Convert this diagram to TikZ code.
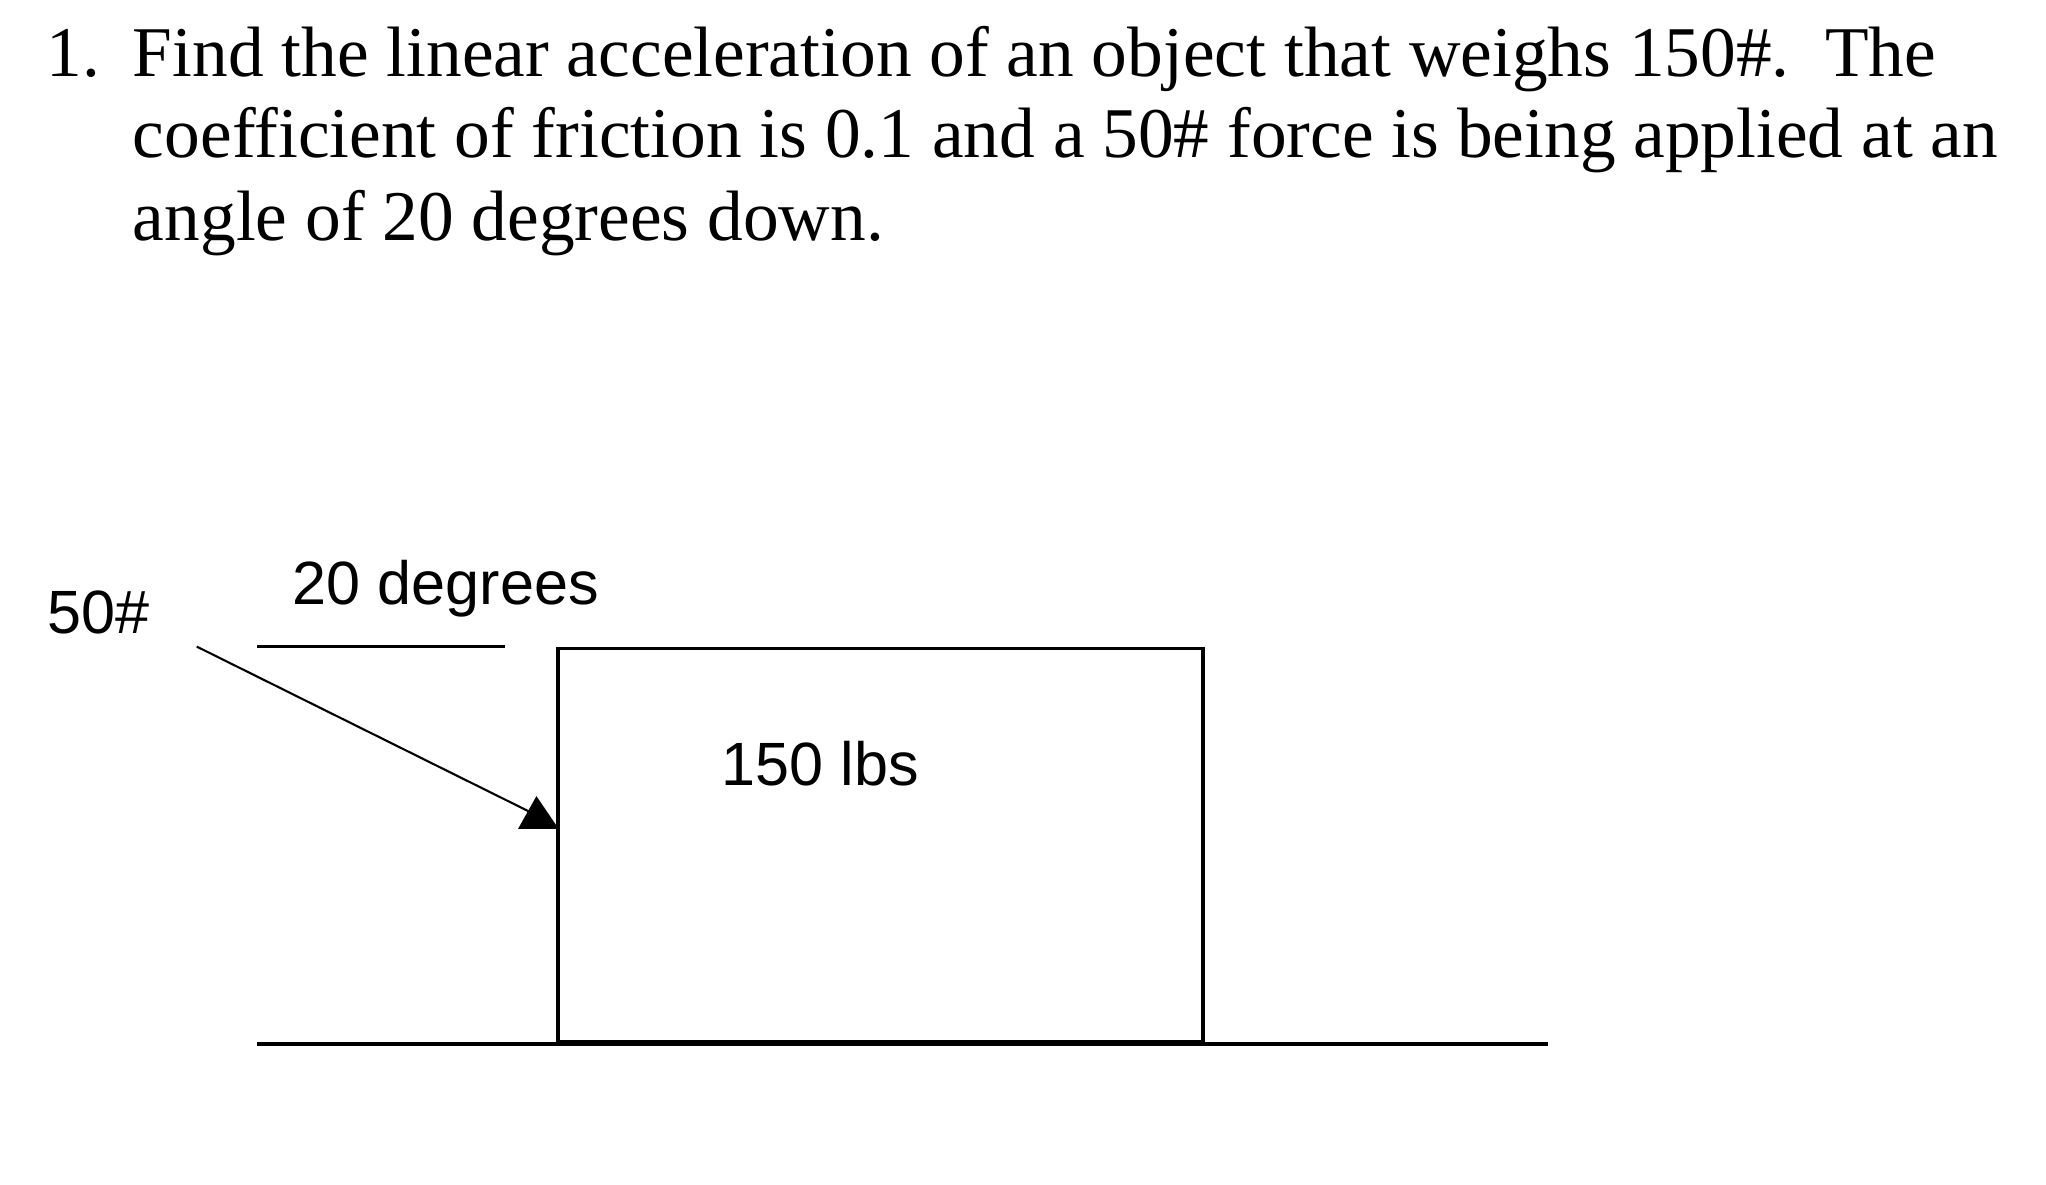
\documentclass[tikz,border=0pt]{standalone}
\usepackage{fontspec}
\newfontfamily\serifT{Liberation Serif}
\newfontfamily\sansA{Liberation Sans}
\begin{document}
\begin{tikzpicture}[x=0.5pt,y=-0.5pt,
  qtext/.style={anchor=base west,inner sep=0pt,font=\serifT\fontsize{27.2}{31}\selectfont},
  dtext/.style={anchor=base west,inner sep=0pt,font=\sansA\fontsize{23.3}{27}\selectfont},
  boxline/.style={line width=1.3pt},
  thinline/.style={line width=0.8pt}]
\useasboundingbox[fill=white] (0,0) rectangle (1560,903);
% question text
\node[qtext] (num) at (35,58) {1.};
\node[qtext] (l1) at (101,58) {Find the linear acceleration of an object that weighs 150\#.\ \ The};
\node[qtext] (l2) at (101,120) {coefficient of friction is 0.1 and a 50\# force is being applied at an};
\node[qtext] (l3) at (101,183) {angle of 20 degrees down.};
% diagram labels
\node[dtext] (force) at (36,483) {50\#};
\node[dtext] (angle) at (223,461) {20 degrees};
\node[dtext] (weight) at (550,599) {150 lbs};
% reference line for angle
\coordinate (ref1) at (196,493);
\coordinate (ref2) at (385,493);
\draw[boxline] (ref1) -- (ref2);
% box
\node[draw,boxline,minimum width=492*0.5pt,minimum height=300*0.5pt,inner sep=0pt,anchor=north west] (block) at (424,493) {};
% ground
\coordinate (g1) at (196,796);
\coordinate (g2) at (1180,796);
\draw[line width=1.4pt] (g1) -- (g2);
% force arrow
\coordinate (fstart) at (150,493);
\coordinate (fend) at (416,625);
\draw[thinline] (fstart) -- (fend);
\fill (409,607) -- (395,632) -- (426,632) -- cycle;
\end{tikzpicture}
\end{document}
